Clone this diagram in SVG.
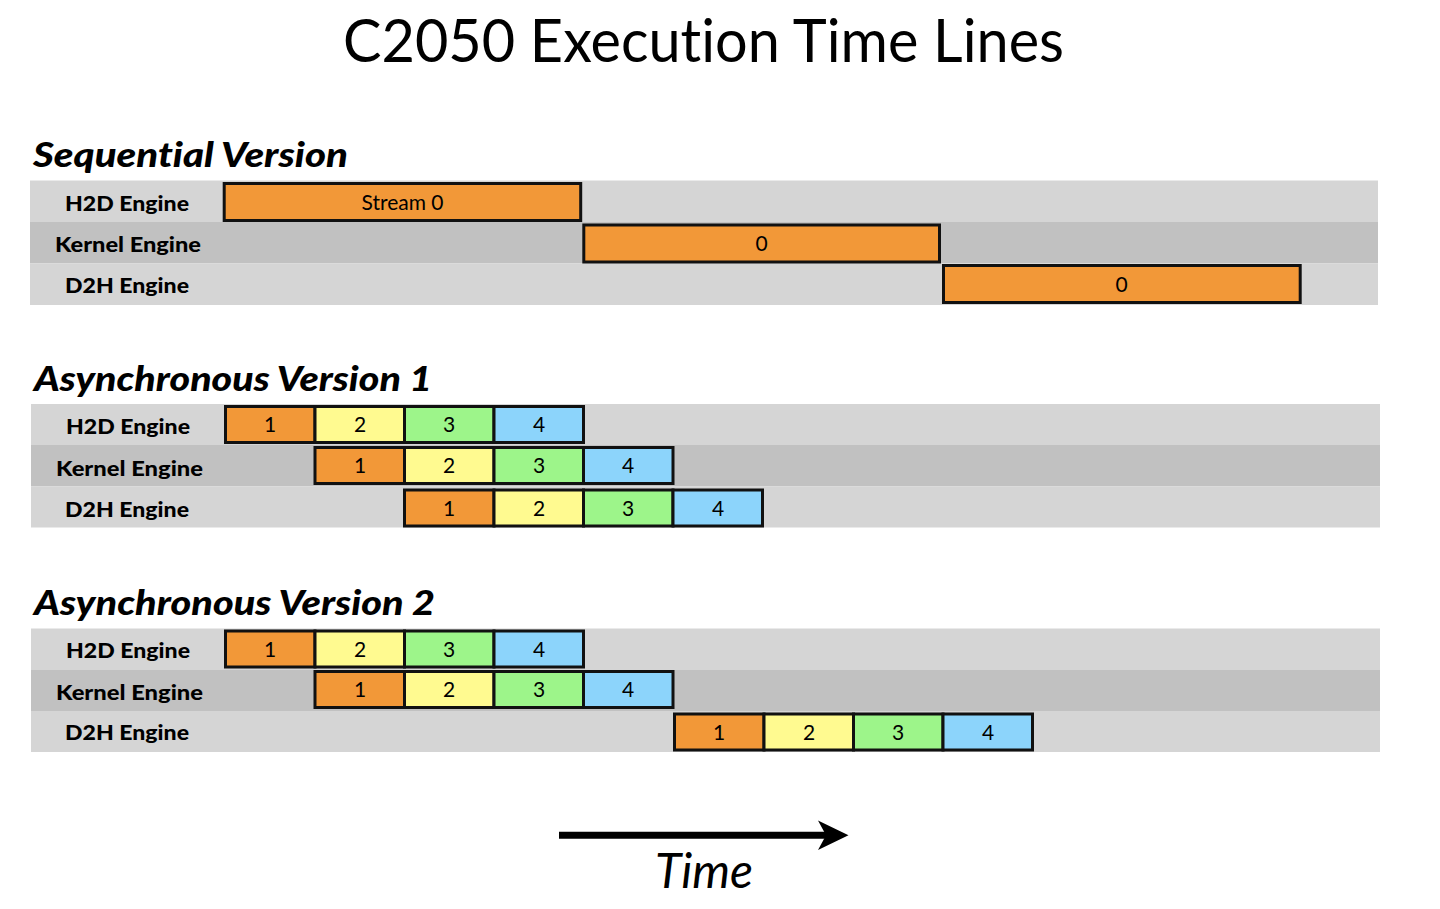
<svg xmlns="http://www.w3.org/2000/svg" width="1440" height="909" viewBox="0 0 1440 909">
<style>
text{font-variant-ligatures:none}
.title{font-family:Lato,"Open Sans","Liberation Sans",sans-serif;font-size:60px;fill:#000}
.head{font-family:Lato,"Open Sans","Liberation Sans",sans-serif;font-size:34px;font-weight:900;font-style:italic;fill:#000}
.lbl{font-family:Lato,"Liberation Sans",sans-serif;font-size:21px;font-weight:900;fill:#000;text-anchor:middle}
.num{font-family:Lato,"Liberation Sans",sans-serif;font-size:21px;fill:#000;text-anchor:middle}
.time{font-family:Lato,"Open Sans","Liberation Sans",sans-serif;font-size:48px;font-style:italic;fill:#000;text-anchor:middle}
.lt{fill:#D5D5D5}
.dk{fill:#C1C1C1}
.blk{stroke:#111;stroke-width:3}
.o{fill:#F29838}
.y{fill:#FFFA90}
.g{fill:#9DF58A}
.b{fill:#8CD4FB}
</style>
<rect width="1440" height="909" fill="#fff"/>
<text class="title" x="703.5" y="62" text-anchor="middle" textLength="721" lengthAdjust="spacingAndGlyphs">C2050 Execution Time Lines</text>

<!-- Sequential -->
<g id="sequential">
<text class="head" x="33" y="167" textLength="315" lengthAdjust="spacingAndGlyphs">Sequential Version</text>
<rect class="lt" x="30" y="180.5" width="1348" height="41.5"/>
<rect class="dk" x="30" y="222" width="1348" height="41.5"/>
<rect class="lt" x="30" y="263.5" width="1348" height="41.5"/>
<text class="lbl" x="127" y="211" textLength="124" lengthAdjust="spacingAndGlyphs">H2D Engine</text>
<text class="lbl" x="128" y="252" textLength="146" lengthAdjust="spacingAndGlyphs">Kernel Engine</text>
<text class="lbl" x="127" y="293" textLength="124" lengthAdjust="spacingAndGlyphs">D2H Engine</text>
</g>
<g id="seq-h2d-0"><rect class="blk o" x="224.2" y="183.5" width="356.5" height="37"/><text class="num" x="402.5" y="210">Stream 0</text></g>
<g id="seq-kernel-0"><rect class="blk o" x="583.8" y="225" width="355.7" height="37"/><text class="num" x="761.5" y="251">0</text></g>
<g id="seq-d2h-0"><rect class="blk o" x="943.5" y="265.5" width="356.7" height="37"/><text class="num" x="1121.5" y="291.5">0</text></g>

<!-- Async 1 -->
<g id="async1">
<text class="head" x="34" y="391" textLength="398" lengthAdjust="spacingAndGlyphs">Asynchronous Version 1</text>
<rect class="lt" x="31" y="404" width="1349" height="41"/>
<rect class="dk" x="31" y="445" width="1349" height="41.5"/>
<rect class="lt" x="31" y="486.5" width="1349" height="41"/>
<text class="lbl" x="128" y="434" textLength="124" lengthAdjust="spacingAndGlyphs">H2D Engine</text>
<text class="lbl" x="129.5" y="476" textLength="147" lengthAdjust="spacingAndGlyphs">Kernel Engine</text>
<text class="lbl" x="127" y="517" textLength="124" lengthAdjust="spacingAndGlyphs">D2H Engine</text>
</g>
<g id="a1-h2d">
<rect class="blk o" x="225.5" y="406.5" width="89.5" height="36"/>
<rect class="blk y" x="315" y="406.5" width="89.5" height="36"/>
<rect class="blk g" x="404.5" y="406.5" width="89.5" height="36"/>
<rect class="blk b" x="494" y="406.5" width="89.5" height="36"/>
<text class="num" x="270" y="432">1</text><text class="num" x="360" y="432">2</text><text class="num" x="449" y="432">3</text><text class="num" x="539" y="432">4</text>
</g>
<g id="a1-kernel">
<rect class="blk o" x="315" y="447.5" width="89.5" height="36"/>
<rect class="blk y" x="404.5" y="447.5" width="89.5" height="36"/>
<rect class="blk g" x="494" y="447.5" width="89.5" height="36"/>
<rect class="blk b" x="583.5" y="447.5" width="89.5" height="36"/>
<text class="num" x="360" y="473">1</text><text class="num" x="449" y="473">2</text><text class="num" x="539" y="473">3</text><text class="num" x="628" y="473">4</text>
</g>
<g id="a1-d2h">
<rect class="blk o" x="404.5" y="490" width="89.5" height="36"/>
<rect class="blk y" x="494" y="490" width="89.5" height="36"/>
<rect class="blk g" x="583.5" y="490" width="89.5" height="36"/>
<rect class="blk b" x="673" y="490" width="89.5" height="36"/>
<text class="num" x="449" y="515.5">1</text><text class="num" x="539" y="515.5">2</text><text class="num" x="628" y="515.5">3</text><text class="num" x="718" y="515.5">4</text>
</g>

<!-- Async 2 -->
<g id="async2">
<text class="head" x="34" y="615" textLength="401" lengthAdjust="spacingAndGlyphs">Asynchronous Version 2</text>
<rect class="lt" x="31" y="628.5" width="1349" height="41.5"/>
<rect class="dk" x="31" y="670" width="1349" height="41"/>
<rect class="lt" x="31" y="711" width="1349" height="41"/>
<text class="lbl" x="128" y="658" textLength="124" lengthAdjust="spacingAndGlyphs">H2D Engine</text>
<text class="lbl" x="129.5" y="700" textLength="147" lengthAdjust="spacingAndGlyphs">Kernel Engine</text>
<text class="lbl" x="127" y="740" textLength="124" lengthAdjust="spacingAndGlyphs">D2H Engine</text>
</g>
<g id="a2-h2d">
<rect class="blk o" x="225.5" y="631" width="89.5" height="36"/>
<rect class="blk y" x="315" y="631" width="89.5" height="36"/>
<rect class="blk g" x="404.5" y="631" width="89.5" height="36"/>
<rect class="blk b" x="494" y="631" width="89.5" height="36"/>
<text class="num" x="270" y="656.5">1</text><text class="num" x="360" y="656.5">2</text><text class="num" x="449" y="656.5">3</text><text class="num" x="539" y="656.5">4</text>
</g>
<g id="a2-kernel">
<rect class="blk o" x="315" y="671.5" width="89.5" height="36"/>
<rect class="blk y" x="404.5" y="671.5" width="89.5" height="36"/>
<rect class="blk g" x="494" y="671.5" width="89.5" height="36"/>
<rect class="blk b" x="583.5" y="671.5" width="89.5" height="36"/>
<text class="num" x="360" y="697">1</text><text class="num" x="449" y="697">2</text><text class="num" x="539" y="697">3</text><text class="num" x="628" y="697">4</text>
</g>
<g id="a2-d2h">
<rect class="blk o" x="674.5" y="714" width="89.5" height="36"/>
<rect class="blk y" x="764" y="714" width="89.5" height="36"/>
<rect class="blk g" x="853.5" y="714" width="89.5" height="36"/>
<rect class="blk b" x="943" y="714" width="89.5" height="36"/>
<text class="num" x="719" y="739.5">1</text><text class="num" x="809" y="739.5">2</text><text class="num" x="898" y="739.5">3</text><text class="num" x="988" y="739.5">4</text>
</g>

<!-- Time arrow -->
<g id="connectors">
<line x1="559" y1="835.3" x2="828" y2="835.3" stroke="#000" stroke-width="7"/>
<polygon points="848.5,835.3 818,820.5 826,835.3 818,850" fill="#000"/>
</g>
<g id="time-label">
<text class="time" x="704" y="888" textLength="98" lengthAdjust="spacingAndGlyphs">Time</text>
</g>
</svg>
